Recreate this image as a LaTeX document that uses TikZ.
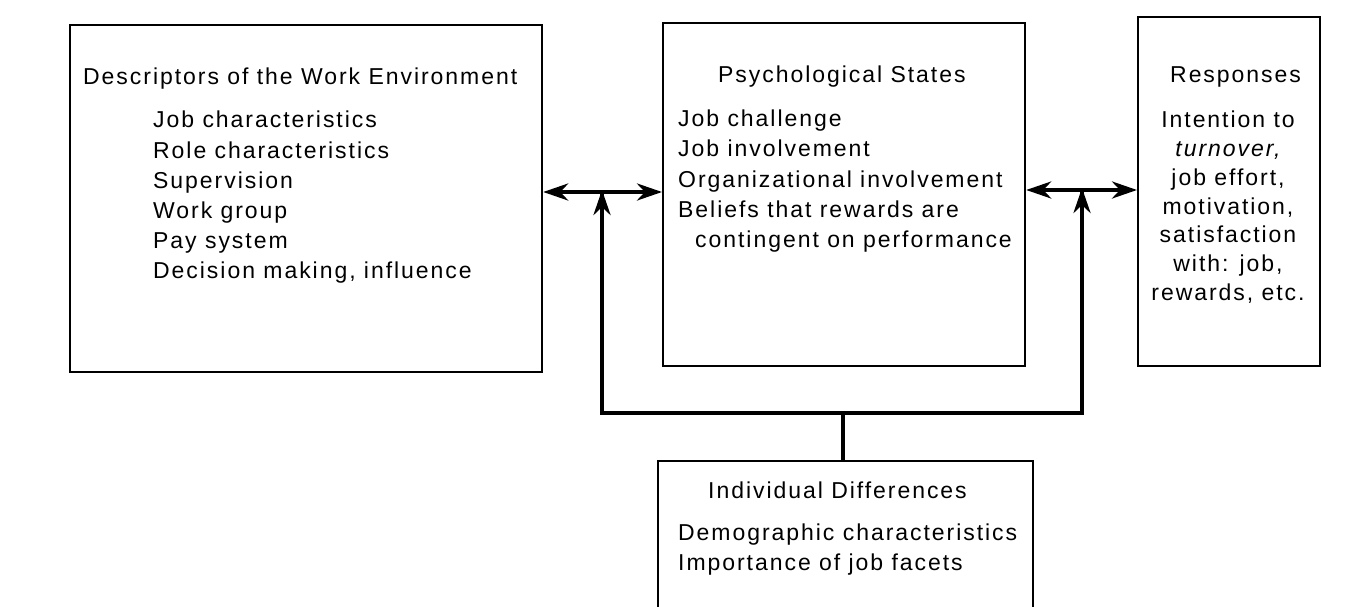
\documentclass[tikz,border=0pt]{standalone}
\usepackage{fontspec}
\setmainfont{Liberation Sans}[LetterSpace=8.5]
\usetikzlibrary{arrows.meta}
\begin{document}
\begin{tikzpicture}[x=1pt,y=-1pt,
  boxline/.style={line width=2.2pt},
  conn/.style={line width=4pt},
  arr/.style={conn,-{Stealth[length=25pt,width=17pt,inset=8pt]}},
  txt/.style={anchor=base west,inner sep=0pt,font=\fontsize{23}{28}\selectfont},
  ctxt/.style={anchor=base,inner sep=0pt,font=\fontsize{23}{28}\selectfont}]
\useasboundingbox (0,0) rectangle (1346,607);
\begin{scope}
\clip (0,0) rectangle (1346,607);
% boxes
\node[boxline,draw,rectangle,anchor=north west,minimum width=472pt,minimum height=347pt,inner sep=0pt] (env) at (69,24) {};
\node[boxline,draw,rectangle,anchor=north west,minimum width=362pt,minimum height=343pt,inner sep=0pt] (psy) at (662,22) {};
\node[boxline,draw,rectangle,anchor=north west,minimum width=182pt,minimum height=349pt,inner sep=0pt] (resp) at (1137,16) {};
\node[boxline,draw,rectangle,anchor=north west,minimum width=375pt,minimum height=200pt,inner sep=0pt] (ind) at (657,460) {};
\end{scope}
% left box text
\node[txt] (envh) at (83,85) {Descriptors of the Work Environment};
\node[txt] (e1) at (153,128) {Job characteristics};
\node[txt] (e2) at (153,158) {Role characteristics};
\node[txt] (e3) at (153,188) {Supervision};
\node[txt] (e4) at (153,218) {Work group};
\node[txt] (e5) at (153,248) {Pay system};
\node[txt] (e6) at (153,278) {Decision making, influence};
% middle box text
\node[txt] (psyh) at (718,83) {Psychological States};
\node[txt] (p1) at (678,127) {Job challenge};
\node[txt] (p2) at (678,157) {Job involvement};
\node[txt] (p3) at (678,187) {Organizational involvement};
\node[txt] (p4) at (678,217) {Beliefs that rewards are};
\node[txt] (p5) at (695,247) {contingent on performance};
% right box text
\node[txt] (resph) at (1170,83) {Responses};
\node[ctxt] (r1) at (1228,128) {Intention to};
\node[ctxt] (r2) at (1228,156.7) {\itshape turnover,};
\node[ctxt] (r3) at (1228,185.4) {job effort,};
\node[ctxt] (r4) at (1228,214.1) {motivation,};
\node[ctxt] (r5) at (1228,242.8) {satisfaction};
\node[ctxt] (r6) at (1228,271.5) {with: job,};
\node[ctxt] (r7) at (1228,300.2) {rewards, etc.};
% bottom box text
\node[txt] (indh) at (708,498) {Individual Differences};
\node[txt] (i1) at (678,540) {Demographic characteristics};
\node[txt] (i2) at (678,570) {Importance of job facets};
% connectors
\coordinate (jl) at (602,192);
\coordinate (jr) at (1082,190);
\coordinate (fl) at (602,413);
\coordinate (fr) at (1082,413);
\coordinate (fm) at (843,413);
\draw[arr] (jl) -- (jl -| env.east);
\draw[arr] (jl) -- (jl -| psy.west);
\draw[arr] (jr) -- (jr -| psy.east);
\draw[arr] (jr) -- (jr -| resp.west);
\draw[conn,line join=miter] ([yshift=-2pt]jl) -- (fl) -- (fr) -- ([yshift=-2pt]jr);
\draw[arr] (fl) -- ([yshift=2pt]jl);
\draw[arr] (fr) -- ([yshift=2pt]jr);
\draw[conn] (fm) -- (fm |- ind.north);
\end{tikzpicture}
\end{document}
